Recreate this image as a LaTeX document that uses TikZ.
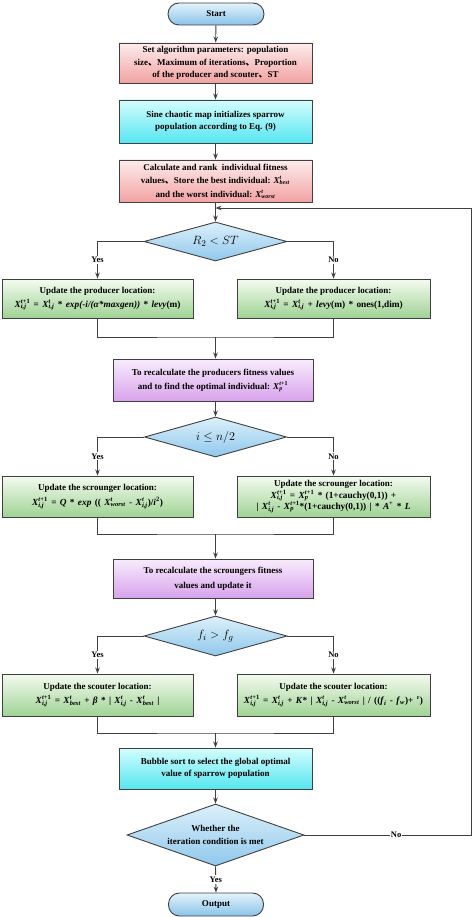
\documentclass[tikz,border=0pt]{standalone}
\usepackage{fontspec}
\setmainfont{Liberation Serif}
\newfontfamily\cjk{Noto Sans CJK SC}
\usetikzlibrary{shapes.geometric,arrows.meta}
\definecolor{lc}{HTML}{404040}
\definecolor{pinkT}{HTML}{FDECEC}
\definecolor{pinkB}{HTML}{F2A2A2}
\definecolor{cyanT}{HTML}{D4FDFD}
\definecolor{cyanB}{HTML}{55E6F0}
\definecolor{greenT}{HTML}{F4FBF0}
\definecolor{greenB}{HTML}{9FD394}
\definecolor{purT}{HTML}{F8ECFC}
\definecolor{purB}{HTML}{D8A2EC}
\definecolor{diaT}{HTML}{DCF0FA}
\definecolor{diaB}{HTML}{8FC8EC}
\definecolor{pillT}{HTML}{E4F3FB}
\definecolor{pillB}{HTML}{88C3EA}
\newcommand{\xss}[2]{\setbox0=\hbox{\textsubscript{#1}}\setbox2=\hbox{\textsuperscript{#2}}\ifdim\wd0>\wd2\relax\rlap{\copy2\relax}\copy0\relax\else\rlap{\copy0\relax}\copy2\relax\fi}
\newcommand{\vX}[2]{\textit{X}\xss{#1}{#2}}
\newcommand{\vij}{\textit{i,j}}
\newcommand{\vt}{\textit{t}}
\newcommand{\vtp}{\textit{t}+1}
\newcommand{\dun}{{\cjk 、}}
\newcommand{\fml}[1]{{\fontsize{9.3}{12}\selectfont\spaceskip=0.36em plus 0.1em\relax #1}}
\begin{document}
\begin{tikzpicture}[x=1pt,y=-1pt,
  txt/.style={font=\bfseries\fontsize{9}{12.5}\selectfont, align=center},
  box/.style={txt, draw=lc, line width=0.9pt, minimum width=193pt, inner sep=1pt},
  pinkbox/.style={box, top color=pinkT, bottom color=pinkB},
  cyanbox/.style={box, top color=cyanT, bottom color=cyanB},
  greenbox/.style={box, top color=greenT, bottom color=greenB},
  purbox/.style={box, top color=purT, bottom color=purB},
  pill/.style={txt, draw=lc, line width=0.9pt, rounded corners=11pt, top color=pillT, bottom color=pillB, minimum width=96pt, minimum height=22pt},
  dia/.style={diamond, draw=lc, line width=0.9pt, inner sep=0pt, top color=diaT, bottom color=diaB},
  mtxt/.style={font=\fontsize{13}{15}\selectfont},
  arr/.style={draw=lc, line width=0.9pt, -{Stealth[length=6pt,width=4.5pt]}},
  ln/.style={draw=lc, line width=0.9pt},
  lab/.style={fill=white, inner sep=1.2pt, font=\bfseries\fontsize{8.5}{10}\selectfont}]
\useasboundingbox (0,0) rectangle (474,917);
\fill[white] (0,0) rectangle (474,917);

\node[pill] (start) at (216,14) {Start};
\node[pinkbox, minimum height=40pt] (b1) at (215.5,63) {Set algorithm parameters: population\\size\dun Maximum of iterations\dun Proportion\\of the producer and scouter\dun ST};
\node[cyanbox, minimum height=43pt] (b2) at (215.5,121.5) {Sine chaotic map initializes sparrow\\population according to Eq. (9)};
\node[pinkbox, minimum height=42pt, font=\bfseries\fontsize{9}{13.5}\selectfont] (b3) at (215.5,181) {Calculate and rank\ \ individual fitness\\values\dun Store the best individual: \vX{\textit{best}}{\vt}\\and the worst individual: \vX{\textit{worst}}{\vt}};

\node[dia, minimum width=143pt, minimum height=39pt] (d1) at (215.5,241.5) {};
\node[mtxt] (d1t) at (d1) {$R_2 < ST$};

\node[greenbox, minimum width=191pt, minimum height=39pt, font=\bfseries\fontsize{9}{14}\selectfont] (gl1) at (97.5,298.5) {Update the producer location:\\\fml{\vX{\vij}{\vtp} = \vX{\vij}{\vt} * \textit{exp(-i/(α*maxgen))} * \textit{levy}(m)}};
\node[greenbox, minimum height=39pt, font=\bfseries\fontsize{9}{14}\selectfont] (gr1) at (333.5,298.5) {Update the producer location:\\\fml{\vX{\vij}{\vtp} = \vX{\vij}{\vt} + \textit{levy}(m) * ones(1,dim)}};

\node[purbox, minimum width=200pt, minimum height=42pt, font=\bfseries\fontsize{9}{14}\selectfont] (p1) at (213,380) {To recalculate the producers fitness values\\and to find the optimal individual: \vX{\textit{p}}{\vtp}};

\node[dia, minimum width=142pt, minimum height=40pt] (d2) at (215.5,437) {};
\node[mtxt] (d2t) at (d2) {$i \leq n/2$};

\node[greenbox, minimum width=191pt, minimum height=41pt, font=\bfseries\fontsize{9}{15}\selectfont] (gl2) at (97.5,496.5) {Update the scrounger location:\\\fml{\vX{\vij}{\vtp} = \textit{Q} * \textit{exp} (( \vX{\textit{worst}}{\vt} - \vX{\vij}{\vt})/\textit{i}\textsuperscript{2})}};
\node[greenbox, minimum height=41pt, font=\bfseries\fontsize{9}{11.5}\selectfont] (gr2) at (333.5,496.5) {Update the scrounger location:\\\fml{\vX{\vij}{\vtp} = \vX{\textit{p}}{\vtp} * (1+cauchy(0,1)) +}\\\fml{| \vX{\vij}{\vt} - \vX{\textit{p}}{\vtp}*(1+cauchy(0,1)) | * \textit{A}\textsuperscript{+} * \textit{L}}};

\node[purbox, minimum width=200pt, minimum height=39pt, font=\bfseries\fontsize{9}{15}\selectfont] (p2) at (213,578.5) {To recalculate the scroungers fitness\\values and update it};

\node[dia, minimum width=143pt, minimum height=40pt] (d3) at (215.5,636) {};
\node[mtxt] (d3t) at (d3) {$f_i > f_g$};

\node[greenbox, minimum width=191pt, minimum height=42pt, font=\bfseries\fontsize{9}{14}\selectfont] (gl3) at (97.5,695) {Update the scouter location:\\\fml{\vX{\vij}{\vtp} = \vX{\textit{best}}{\vt} + \textit{β} * | \vX{\vij}{\vt} - \vX{\textit{best}}{\vt} |}};
\node[greenbox, minimum height=42pt, font=\bfseries\fontsize{9}{14}\selectfont] (gr3) at (333.5,695) {Update the scouter location:\\\fml{\vX{\vij}{\vtp} = \vX{\vij}{\vt} + \textit{K}* | \vX{\vij}{\vt} - \vX{\textit{worst}}{\vt} | / ((\textit{f}\textsubscript{\textit{i}} - \textit{f}\textsubscript{\textit{w}})+ \textsuperscript{\textit{ε}})}};

\node[cyanbox, minimum height=41pt] (bub) at (215.5,768.5) {Bubble sort to select the global optimal\\value of sparrow population};

\node[dia, minimum width=177pt, minimum height=62pt] (d4) at (215.5,835) {};
\node[txt] (d4t) at (d4) {Whether the\\iteration condition is met};

\node[pill, minimum width=95pt, minimum height=23pt] (out) at (216,904.5) {Output};

\coordinate (fb) at (215.5,208);
\coordinate (rc) at (471,835);
\coordinate (m1) at (215.5,337);
\coordinate (m2) at (215.5,534);
\coordinate (m3) at (215.5,733);

\draw[arr] (start) -- (b1);
\draw[arr] (b1) -- (b2);
\draw[arr] (b2) -- (b3);
\draw[arr] (b3) -- (d1);
\draw[arr] (d1.west) -| node[lab,pos=0.75]{Yes} (gl1.north);
\draw[arr] (d1.east) -| node[lab,pos=0.75]{No} (gr1.north);
\draw[ln] (gl1.south) |- (m1) -| (gr1.south);
\draw[arr] (m1) -- (m1 |- p1.north);
\draw[arr] (d2.north |- p1.south) -- (d2.north);
\draw[arr] (d2.west) -| node[lab,pos=0.75]{Yes} (gl2.north);
\draw[arr] (d2.east) -| node[lab,pos=0.75]{No} (gr2.north);
\draw[ln] (gl2.south) |- (m2) -| (gr2.south);
\draw[arr] (m2) -- (m2 |- p2.north);
\draw[arr] (d3.north |- p2.south) -- (d3.north);
\draw[arr] (d3.west) -| node[lab,pos=0.75]{Yes} (gl3.north);
\draw[arr] (d3.east) -| node[lab,pos=0.75]{No} (gr3.north);
\draw[ln] (gl3.south) |- (m3) -| (gr3.south);
\draw[arr] (m3) -- (bub.north);
\draw[arr] (bub) -- (d4);
\draw[arr] (d4.south) -- node[lab]{Yes} (out.north);
\draw[arr] (d4.east) -- node[lab,pos=0.55]{No} (rc) |- (fb);
\end{tikzpicture}
\end{document}
